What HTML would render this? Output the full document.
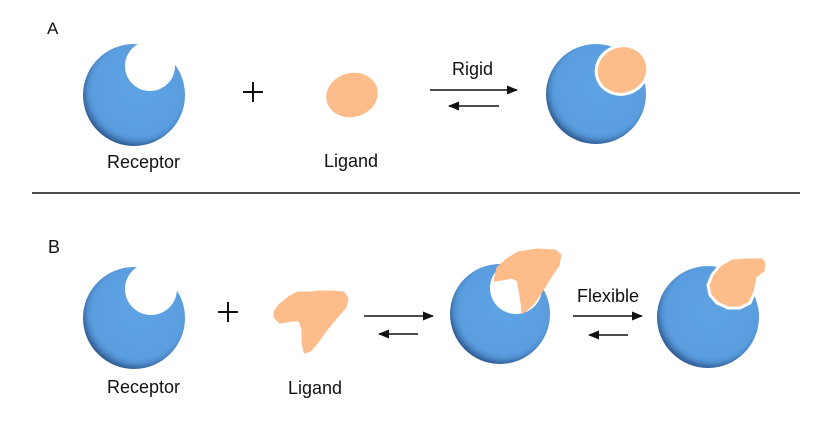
<!DOCTYPE html>
<html><head><meta charset="utf-8"><style>
html,body{margin:0;padding:0;background:#fff;}
svg{display:block;}
text{font-family:"Liberation Sans",Arial,sans-serif;fill:#111;}
</style></head><body>
<svg width="820" height="424" viewBox="0 0 820 424" xmlns="http://www.w3.org/2000/svg">
<defs>
<radialGradient id="bl" cx="0.54" cy="0.45" r="0.56">
<stop offset="0" stop-color="#5ea3e4"/>
<stop offset="0.80" stop-color="#5a9ee0"/>
<stop offset="0.88" stop-color="#5190d0"/>
<stop offset="0.95" stop-color="#3d70aa"/>
<stop offset="1" stop-color="#2e5b8f"/>
</radialGradient>
<mask id="mA"><rect width="820" height="424" fill="#fff"/><circle cx="150" cy="66" r="25" fill="#000"/></mask>
<mask id="mB"><rect width="820" height="424" fill="#fff"/><circle cx="151" cy="289" r="26" fill="#000"/></mask>
<mask id="mC"><rect width="820" height="424" fill="#fff"/><circle cx="516" cy="288" r="26" fill="#000"/></mask>
<marker id="ah" markerWidth="11" markerHeight="9" refX="10" refY="4.5" orient="auto" markerUnits="userSpaceOnUse">
<path d="M0,0 L11,4.5 L0,9 Z" fill="#111"/></marker>
</defs>

<!-- Section A -->
<text x="47" y="34" font-size="17">A</text>
<circle cx="134" cy="95" r="51" fill="url(#bl)" mask="url(#mA)"/>
<text x="107" y="168" font-size="18">Receptor</text>
<line x1="243" y1="92" x2="263" y2="92" stroke="#111" stroke-width="2"/>
<line x1="253" y1="82" x2="253" y2="102" stroke="#111" stroke-width="2"/>
<ellipse cx="352" cy="95" rx="26" ry="22" transform="rotate(-15 352 95)" fill="#fdbd8b"/>
<text x="324" y="167" font-size="18">Ligand</text>
<text x="452" y="75" font-size="18">Rigid</text>
<line x1="430" y1="90" x2="517" y2="90" stroke="#111" stroke-width="1.5" marker-end="url(#ah)"/>
<line x1="499" y1="106" x2="449" y2="106" stroke="#111" stroke-width="1.5" marker-end="url(#ah)"/>
<circle cx="596" cy="94" r="50" fill="url(#bl)"/>
<ellipse cx="622" cy="70" rx="26" ry="24" transform="rotate(-20 622 70)" fill="#fdbd8b" stroke="#fff" stroke-width="3"/>

<line x1="32" y1="193" x2="800" y2="193" stroke="#111" stroke-width="1.4"/>

<!-- Section B -->
<text x="48" y="253" font-size="18">B</text>
<circle cx="134" cy="318" r="51" fill="url(#bl)" mask="url(#mB)"/>
<text x="107" y="393" font-size="18">Receptor</text>
<line x1="218" y1="312" x2="238" y2="312" stroke="#111" stroke-width="2"/>
<line x1="228" y1="302" x2="228" y2="322" stroke="#111" stroke-width="2"/>
<polygon points="275,312 280,305 290,297 298,293 310,293 320,292 333,292 343,293 347,298 345,307 338,315 327,328 317,342 310,350 305,352 303,343 303,330 300,320 292,320 280,322 275,317" fill="#fdbd8b" stroke="#fdbd8b" stroke-width="3" stroke-linejoin="round"/>
<text x="288" y="394" font-size="18">Ligand</text>
<line x1="364" y1="316" x2="433" y2="316" stroke="#111" stroke-width="1.5" marker-end="url(#ah)"/>
<line x1="418" y1="334" x2="379" y2="334" stroke="#111" stroke-width="1.5" marker-end="url(#ah)"/>

<circle cx="500" cy="314" r="50" fill="url(#bl)" mask="url(#mC)"/>
<polygon points="495,280 498,268 507,260 518,253 537,250 555,251 560,255 558,265 550,277 542,290 533,303 528,308 523,312 522,303 520,290 518,280 512,277 502,279" fill="#fdbd8b" stroke="#fdbd8b" stroke-width="3" stroke-linejoin="round"/>

<text x="577" y="302" font-size="18">Flexible</text>
<line x1="573" y1="316" x2="642" y2="316" stroke="#111" stroke-width="1.5" marker-end="url(#ah)"/>
<line x1="628" y1="335" x2="589" y2="335" stroke="#111" stroke-width="1.5" marker-end="url(#ah)"/>

<circle cx="708" cy="317" r="51" fill="url(#bl)"/>
<polygon points="708,285 712,275 720,265 732,258 747,257 763,257 767,262 766,272 758,278 755,292 750,303 740,308 728,308 717,303 710,295" fill="#fdbd8b" stroke="#fff" stroke-width="3" stroke-linejoin="round"/>
</svg>
</body></html>
